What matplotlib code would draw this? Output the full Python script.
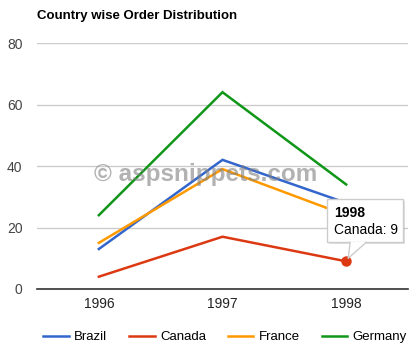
import matplotlib
matplotlib.use("Agg")
import matplotlib.pyplot as plt
from matplotlib.patches import Rectangle, Polygon
from matplotlib.lines import Line2D
from matplotlib.transforms import Affine2D, ScaledTranslation

plt.rcParams['font.family'] = ['Liberation Sans', 'DejaVu Sans']

title = "Country wise Order Distribution"
years = ["1996", "1997", "1998"]
brazil = [13, 42, 28]
canada = [4, 17, 9]
france = [15, 39, 24]
germany = [24, 64, 34]
series_names = ["Brazil", "Canada", "France", "Germany"]
series_vals = [brazil, canada, france, germany]
colors = ["#3366cc", "#dc3912", "#ff9900", "#109618"]
yticks = [0, 20, 40, 60, 80]
watermark = "© aspsnippets.com"

W, H = 415, 351
fig = plt.figure(figsize=(W / 100, H / 100), dpi=100)
ax = fig.add_axes([37 / W, 62 / H, 371 / W, 246 / H])

x = list(range(len(years)))
lines = []
for name, vals, c in zip(series_names, series_vals, colors):
    ln, = ax.plot(x, vals, color=c, lw=1.8, label=name, solid_joinstyle='miter', zorder=3)
    lines.append(ln)

ax.set_xlim(-0.5, len(years) - 0.5)
ax.set_ylim(0, 80)
ax.set_yticks(yticks)
ax.set_xticks(x)
ax.set_xticklabels(years)
ax.grid(axis='y', color='#cccccc', lw=1)
ax.set_axisbelow(True)
for s in ['top', 'right', 'left']:
    ax.spines[s].set_visible(False)
ax.spines['bottom'].set_color('#333333')
ax.spines['bottom'].set_linewidth(1.2)
ax.spines['bottom'].set_zorder(2)
ax.tick_params(axis='both', length=0, labelsize=10, colors='#222222')
ax.tick_params(axis='y', pad=10.5, labelcolor='#444444')
ax.tick_params(axis='x', pad=6)

fig.text(37 / W, 1 - 16 / H, title, fontsize=9.5, fontweight='bold', va='center', ha='left')

# watermark
ax.text(0.455, 0.465, watermark, transform=ax.transAxes, fontsize=17.5, fontweight='bold',
        color='#808080', alpha=0.6, ha='center', va='center', zorder=4)

# highlighted point + tooltip (local coords in pixels relative to the point)
px, py = 2, canada[2]
ax.plot([px], [py], 'o', color=colors[1], ms=6.5, zorder=6)
T = Affine2D() + ScaledTranslation(px, py, ax.transData)
bx0, bx1, by0, by1 = -19, 57, 19, 62
ax.add_patch(Rectangle((bx0 + 1.5, by0 - 1.5), bx1 - bx0, by1 - by0, transform=T,
                       facecolor='#000000', alpha=0.12, edgecolor='none', zorder=7, clip_on=False))
ax.add_patch(Rectangle((bx0, by0), bx1 - bx0, by1 - by0, transform=T,
                       facecolor='white', edgecolor='#cccccc', lw=1, zorder=8, clip_on=False))
ax.add_patch(Polygon([[4, by0 + 0.6], [20, by0 + 0.6], [2, 3]], closed=True, transform=T,
                     facecolor='white', edgecolor='none', zorder=9, clip_on=False))
ax.add_line(Line2D([4, 2, 20], [by0, 3, by0], transform=T, color='#cccccc', lw=1, zorder=9, clip_on=False))
ax.text(bx0 + 7, by1 - 14, "1998", transform=T, fontsize=10, fontweight='bold',
        va='center', ha='left', zorder=10)
ax.text(bx0 + 7, by1 - 31, "Canada: 9", transform=T, fontsize=10,
        va='center', ha='left', zorder=10)

leg = fig.legend(handles=lines, labels=series_names, loc='center', bbox_to_anchor=(0.542, 1 - 337 / H),
                 ncol=4, frameon=False, fontsize=9.5, handlelength=1.95, handletextpad=0.4,
                 columnspacing=1.65)

fig.savefig("out.png", dpi=100, facecolor='white')
